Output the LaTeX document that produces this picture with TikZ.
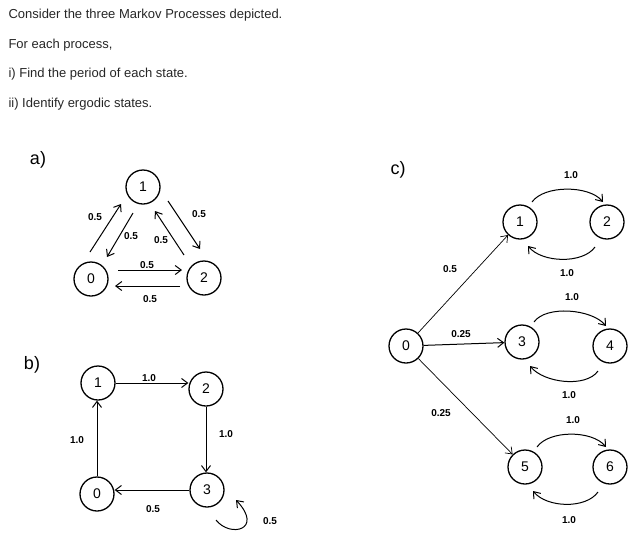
\documentclass[tikz,border=0pt]{standalone}
\usepackage{fontspec}
\setmainfont{Liberation Sans}
\usetikzlibrary{arrows.meta,calc}
\begin{document}
\begin{tikzpicture}[x=1pt,y=-1pt,
  st/.style={circle,draw,line width=1.3pt,minimum size=34pt,inner sep=0pt,font=\fontsize{14}{14}\selectfont},
  ed/.style={-{Straight Barb[length=6pt,width=9pt]},line width=1pt},
  lb/.style={font=\fontsize{10}{10}\selectfont\bfseries},
  hd/.style={anchor=west,font=\fontsize{13}{15}\selectfont,text=black!85},
  sec/.style={font=\fontsize{18}{18}\selectfont}]
\useasboundingbox (0,0) rectangle (640,547);
\node[hd] (t1) at (5,15) {Consider the three Markov Processes depicted.};
\node[hd] (t2) at (5,45) {For each process,};
\node[hd] (t3) at (5,74) {i) Find the period of each state.};
\node[hd] (t4) at (5,104) {ii) Identify ergodic states.};
% a
\node[sec] (la) at (38,160) {a)};
\node[st] (a1) at (143,187) {1};
\node[st] (a0) at (91,279) {0};
\node[st] (a2) at (204,278) {2};
\coordinate (p1) at (90,252); \coordinate (p2) at (121,204);
\coordinate (p3) at (133,213); \coordinate (p4) at (107,257);
\coordinate (p5) at (168,201); \coordinate (p6) at (200,249);
\coordinate (p7) at (184,255); \coordinate (p8) at (155,211);
\coordinate (p9) at (118,270); \coordinate (p10) at (182,270);
\coordinate (p11) at (180,286); \coordinate (p12) at (115,286);
\draw[ed] (p1) -- (p2);
\draw[ed] (p3) -- (p4);
\draw[ed] (p5) -- (p6);
\draw[ed] (p7) -- (p8);
\draw[ed] (p9) -- (p10);
\draw[ed] (p11) -- (p12);
\node[lb] (la1) at (95,217) {0.5};
\node[lb] (la2) at (131,236) {0.5};
\node[lb] (la3) at (199,214) {0.5};
\node[lb] (la4) at (161,240) {0.5};
\node[lb] (la5) at (147,265) {0.5};
\node[lb] (la6) at (150,299) {0.5};
% b
\node[sec] (lbb) at (32,365) {b)};
\node[st] (b1) at (98,383) {1};
\node[st] (b2) at (206,389) {2};
\node[st] (b3) at (207,490) {3};
\node[st] (b0) at (97,494) {0};
\draw[ed] (b1.east) -- (b2.west |- b1.east);
\draw[ed] (b2.south) -- (b2.south |- b3.north);
\draw[ed] (b3.west) -- (b0.east |- b3.west);
\draw[ed] (b0.north) -- (b0.north |- b1.south);
\coordinate (lp) at (216,520);
\coordinate (lq) at (236,500);
\draw[ed] (lp) .. controls (230,538) and (264,530) .. (lq);
\node[lb] (lb1) at (149,378) {1.0};
\node[lb] (lb2) at (226,434) {1.0};
\node[lb] (lb3) at (77,440) {1.0};
\node[lb] (lb4) at (153,509) {0.5};
\node[lb] (lb5) at (270,521) {0.5};
% c
\node[sec] (lc) at (398,170) {c)};
\node[st] (c0) at (406,346) {0};
\node[st] (c1) at (520,222) {1};
\node[st] (c2) at (607,222) {2};
\node[st] (c3) at (522,342) {3};
\node[st] (c4) at (610,346) {4};
\node[st] (c5) at (525,467) {5};
\node[st] (c6) at (610,467) {6};
\draw[ed,line width=0.7pt] (c0) -- (c1);
\draw[ed] (c0) -- (c3);
\draw[ed,line width=0.7pt] (c0) -- (c5);
\foreach \u/\v in {c1/c2,c3/c4,c5/c6}{
  \draw[ed] ($(\u)+(12,-20)$) .. controls +(12,-17) and +(-14,-17) .. ($(\v)+(-4,-20)$);
  \draw[ed] ($(\v)+(-12,25)$) .. controls +(-12,17) and +(14,17) .. ($(\u)+(8,24)$);
}
\node[lb] (lc1) at (450,269) {0.5};
\node[lb] (lc2) at (461,334) {0.25};
\node[lb] (lc3) at (441,413) {0.25};
\node[lb] (lc4) at (571,175) {1.0};
\node[lb] (lc5) at (567,273) {1.0};
\node[lb] (lc6) at (572,297) {1.0};
\node[lb] (lc7) at (569,395) {1.0};
\node[lb] (lc8) at (573,420) {1.0};
\node[lb] (lc9) at (569,520) {1.0};
\end{tikzpicture}
\end{document}
